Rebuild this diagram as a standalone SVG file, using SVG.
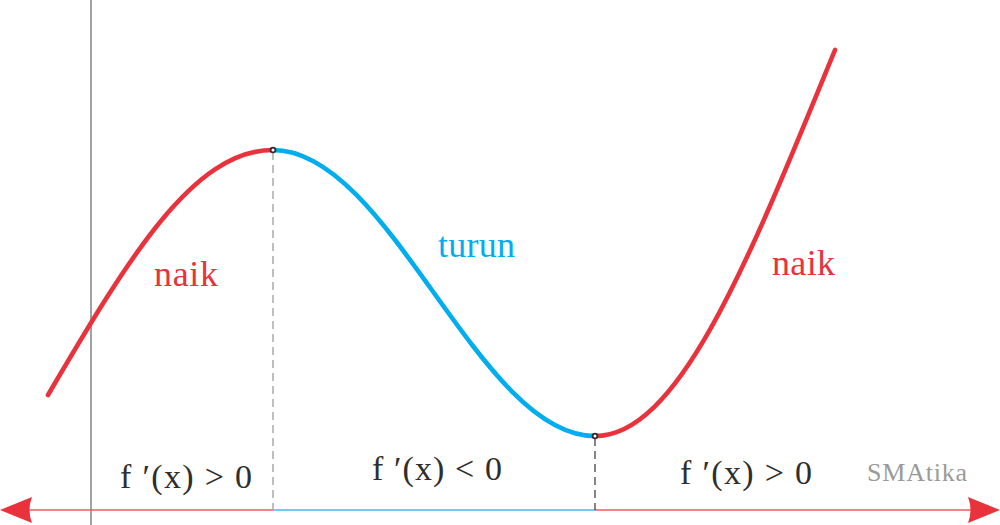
<svg xmlns="http://www.w3.org/2000/svg" width="1000" height="525" viewBox="0 0 1000 525">
<style>
.curve-red{fill:none;stroke:#e9323b;stroke-width:4.6;stroke-linecap:round}
.curve-blue{fill:none;stroke:#00adee;stroke-width:4.6;stroke-linecap:round}
.lbl{font-family:"Liberation Serif","Times New Roman",serif;font-size:36px}
.cond{font-family:"Liberation Serif","Times New Roman",serif;font-size:34px;fill:#2e2e2e}
.pt{fill:#fff;stroke:#2e2e2e;stroke-width:1.8}
</style>
<rect width="1000" height="525" fill="#fff"/>
<g id="yaxis"><line x1="91" y1="0" x2="91" y2="525" stroke="#444" stroke-width="1"/></g>
<g id="xaxis">
<line x1="28" y1="510" x2="273" y2="510" stroke="#f0585f" stroke-width="1.5"/>
<line x1="273" y1="510" x2="595" y2="510" stroke="#3cbcf0" stroke-width="1.5"/>
<line x1="595" y1="510" x2="972" y2="510" stroke="#f0585f" stroke-width="1.5"/>
<path d="M0,510 L32,497 Q27,510 32,523 Z" fill="#e9323b"/>
<path d="M1000,510 L968,497 Q973,510 968,523 Z" fill="#e9323b"/>
</g>
<g id="connectors">
<line x1="273" y1="152" x2="273" y2="510" stroke="#aaa" stroke-width="1.5" stroke-dasharray="8,5"/>
<line x1="595" y1="438" x2="595" y2="510" stroke="#333" stroke-width="1.2" stroke-dasharray="8,5"/>
</g>
<g id="curve">
<path class="curve-red" d="M48,395 C128,259 193,150 273,150"/>
<path class="curve-blue" d="M273,150 C390,150 478,436 595,436"/>
<path class="curve-red" d="M595,436 C680,436 750,257 835,50"/>
</g>
<g id="points">
<circle class="pt" cx="273" cy="150" r="2.4"/>
<circle class="pt" cx="595" cy="436" r="2.4"/>
</g>
<g id="labels">
<text class="lbl" x="154" y="286" fill="#e9323b" textLength="64">naik</text>
<text class="lbl" x="438" y="257" fill="#00adee" textLength="77">turun</text>
<text class="lbl" x="772" y="275" fill="#e9323b" textLength="63">naik</text>
<text class="cond" x="120" y="488" textLength="132">f ′(x) &gt; 0</text>
<text class="cond" x="372" y="480" textLength="130">f ′(x) &lt; 0</text>
<text class="cond" x="680" y="484" textLength="132">f ′(x) &gt; 0</text>
<text x="867" y="481" font-family="Liberation Serif, serif" font-size="26" fill="#9a9a9a" textLength="100">SMAtika</text>
</g>
</svg>
